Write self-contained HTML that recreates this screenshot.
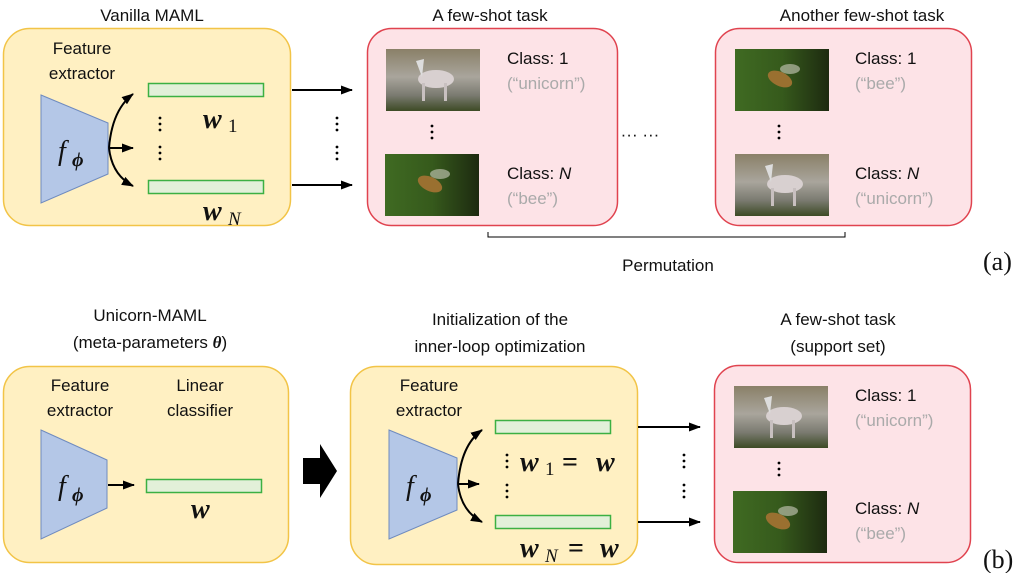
<!DOCTYPE html>
<html><head><meta charset="utf-8"><style>
html,body{margin:0;padding:0;background:#fff;}
svg{display:block;}
text{font-family:"Liberation Sans",sans-serif;font-size:17px;fill:#111;}
.g{fill:#aaa;}
.m{font-family:"Liberation Serif",serif;font-weight:bold;font-style:italic;font-size:28px;}
.ms{font-family:"Liberation Serif",serif;font-size:17px;font-style:italic;}
.lab{font-family:"Liberation Serif",serif;font-size:26px;}
</style></head><body>
<svg width="1021" height="573" viewBox="0 0 1021 573" xmlns="http://www.w3.org/2000/svg">
<defs>
<marker id="ah" markerWidth="12" markerHeight="9" refX="11" refY="4.5" orient="auto" markerUnits="userSpaceOnUse"><path d="M0,0 L12,4.5 L0,9 z" fill="#000"/></marker>
<linearGradient id="uni" x1="0" y1="0" x2="0" y2="1"><stop offset="0" stop-color="#8a8068"/><stop offset="0.45" stop-color="#a9a59c"/><stop offset="0.75" stop-color="#7a7a70"/><stop offset="1" stop-color="#3d4a25"/></linearGradient>
<linearGradient id="bee" x1="0" y1="0" x2="1" y2="0"><stop offset="0" stop-color="#3f6a22"/><stop offset="0.5" stop-color="#365a1c"/><stop offset="1" stop-color="#1d2a10"/></linearGradient>
<g id="U"><rect width="94" height="62" fill="url(#uni)"/><ellipse cx="50" cy="30" rx="18" ry="9" fill="#d8d0d0"/><rect x="36" y="34" width="3" height="18" fill="#c8c0c0"/><rect x="58" y="34" width="3" height="18" fill="#c8c0c0"/><path d="M36,28 L30,12 L38,10 Z" fill="#ddd"/></g>
<g id="B"><rect width="94" height="62" fill="url(#bee)"/><ellipse cx="45" cy="30" rx="13" ry="7" fill="#9a7030" transform="rotate(25 45 30)"/><ellipse cx="55" cy="20" rx="10" ry="5" fill="#b8bca8" opacity="0.7"/></g>
</defs>

<!-- (a) -->
<text x="152" y="21" text-anchor="middle">Vanilla MAML</text>
<rect x="3.5" y="28.5" width="287" height="197" rx="26" fill="#fff0c2" stroke="#f2c447" stroke-width="1.5"/>
<text x="82" y="54" text-anchor="middle">Feature</text>
<text x="82" y="79" text-anchor="middle">extractor</text>
<path d="M41,95 L108,123 L108,174 L41,203 Z" fill="#b4c7e7" stroke="#6f8bbf"/>
<text x="58" y="160" class="ms" style="font-size:28px;font-weight:normal">f</text><text x="72" y="166" class="m" style="font-size:20px">ϕ</text>
<path d="M109,148 Q112,110 133,94" fill="none" stroke="#000" stroke-width="2" marker-end="url(#ah)"/>
<path d="M109,148 L133,148" fill="none" stroke="#000" stroke-width="2" marker-end="url(#ah)"/>
<path d="M109,148 Q112,175 133,186" fill="none" stroke="#000" stroke-width="2" marker-end="url(#ah)"/>
<rect x="148.5" y="83.5" width="115" height="13" fill="#e2f0d9" stroke="#3cb043" stroke-width="1.5"/>
<rect x="148.5" y="180.5" width="115" height="13" fill="#e2f0d9" stroke="#3cb043" stroke-width="1.5"/>
<text x="203" y="128" class="m">w</text><text x="228" y="132" class="ms" style="font-size:19px;font-style:normal">1</text>
<text x="203" y="220" class="m">w</text><text x="228" y="225" class="ms" style="font-size:19px">N</text>
<g fill="#000"><circle cx="160" cy="118" r="1.4"/><circle cx="160" cy="124" r="1.4"/><circle cx="160" cy="130" r="1.4"/><circle cx="160" cy="147" r="1.4"/><circle cx="160" cy="153" r="1.4"/><circle cx="160" cy="159" r="1.4"/>
<circle cx="337" cy="118" r="1.4"/><circle cx="337" cy="124" r="1.4"/><circle cx="337" cy="130" r="1.4"/><circle cx="337" cy="147" r="1.4"/><circle cx="337" cy="153" r="1.4"/><circle cx="337" cy="159" r="1.4"/></g>
<path d="M292,90 L352,90" stroke="#000" stroke-width="2" marker-end="url(#ah)"/>
<path d="M292,185 L352,185" stroke="#000" stroke-width="2" marker-end="url(#ah)"/>

<text x="490" y="21" text-anchor="middle">A few-shot task</text>
<rect x="367.5" y="28.5" width="250" height="197" rx="24" fill="#fde3e7" stroke="#e0434f" stroke-width="1.5"/>
<use href="#U" x="386" y="49"/><use href="#B" x="385" y="154"/>
<g fill="#000"><circle cx="432" cy="126" r="1.4"/><circle cx="432" cy="132" r="1.4"/><circle cx="432" cy="138" r="1.4"/></g>
<text x="507" y="64">Class: 1</text><text x="507" y="89" class="g">(“unicorn”)</text>
<text x="507" y="179">Class: <tspan font-style="italic">N</tspan></text><text x="507" y="204" class="g">(“bee”)</text>

<text x="640" y="140" text-anchor="middle">··· ···</text>

<text x="862" y="21" text-anchor="middle">Another few-shot task</text>
<rect x="715.5" y="28.5" width="256" height="197" rx="24" fill="#fde3e7" stroke="#e0434f" stroke-width="1.5"/>
<use href="#B" x="735" y="49"/><use href="#U" x="735" y="154"/>
<g fill="#000"><circle cx="779" cy="126" r="1.4"/><circle cx="779" cy="132" r="1.4"/><circle cx="779" cy="138" r="1.4"/></g>
<text x="855" y="64">Class: 1</text><text x="855" y="89" class="g">(“bee”)</text>
<text x="855" y="179">Class: <tspan font-style="italic">N</tspan></text><text x="855" y="204" class="g">(“unicorn”)</text>

<path d="M488,232 L488,237 L845,237 L845,232" fill="none" stroke="#000" stroke-width="1"/>
<text x="668" y="271" text-anchor="middle">Permutation</text>
<text x="983" y="270" class="lab">(a)</text>

<!-- (b) -->
<text x="150" y="321" text-anchor="middle">Unicorn-MAML</text>
<text x="150" y="348" text-anchor="middle">(meta-parameters <tspan font-family="Liberation Serif" font-weight="bold" font-style="italic">θ</tspan>)</text>
<rect x="3.5" y="366.5" width="285" height="196" rx="26" fill="#fff0c2" stroke="#f2c447" stroke-width="1.5"/>
<text x="80" y="391" text-anchor="middle">Feature</text><text x="80" y="416" text-anchor="middle">extractor</text>
<text x="200" y="391" text-anchor="middle">Linear</text><text x="200" y="416" text-anchor="middle">classifier</text>
<path d="M41,430 L107,460 L107,508 L41,539 Z" fill="#b4c7e7" stroke="#6f8bbf"/>
<text x="58" y="495" class="ms" style="font-size:28px">f</text><text x="72" y="501" class="m" style="font-size:20px">ϕ</text>
<path d="M108,485 L134,485" stroke="#000" stroke-width="2" marker-end="url(#ah)"/>
<rect x="146.5" y="479.5" width="115" height="13" fill="#e2f0d9" stroke="#3cb043" stroke-width="1.5"/>
<text x="191" y="518" class="m">w</text>

<path d="M303,458 L320,458 L320,444 L337,471 L320,498 L320,484 L303,484 Z" fill="#000"/>

<text x="500" y="325" text-anchor="middle">Initialization of the</text>
<text x="500" y="352" text-anchor="middle">inner-loop optimization</text>
<rect x="350.5" y="366.5" width="287" height="198" rx="26" fill="#fff0c2" stroke="#f2c447" stroke-width="1.5"/>
<text x="429" y="391" text-anchor="middle">Feature</text><text x="429" y="416" text-anchor="middle">extractor</text>
<path d="M389,430 L457,458 L457,510 L389,539 Z" fill="#b4c7e7" stroke="#6f8bbf"/>
<text x="406" y="495" class="ms" style="font-size:28px">f</text><text x="420" y="501" class="m" style="font-size:20px">ϕ</text>
<path d="M458,484 Q461,445 482,430" fill="none" stroke="#000" stroke-width="2" marker-end="url(#ah)"/>
<path d="M458,484 L479,484" fill="none" stroke="#000" stroke-width="2" marker-end="url(#ah)"/>
<path d="M458,484 Q461,511 482,522" fill="none" stroke="#000" stroke-width="2" marker-end="url(#ah)"/>
<rect x="495.5" y="420.5" width="115" height="13" fill="#e2f0d9" stroke="#3cb043" stroke-width="1.5"/>
<rect x="495.5" y="515.5" width="115" height="13" fill="#e2f0d9" stroke="#3cb043" stroke-width="1.5"/>
<g fill="#000"><circle cx="507" cy="455" r="1.4"/><circle cx="507" cy="461" r="1.4"/><circle cx="507" cy="467" r="1.4"/><circle cx="507" cy="485" r="1.4"/><circle cx="507" cy="491" r="1.4"/><circle cx="507" cy="497" r="1.4"/>
<circle cx="684" cy="455" r="1.4"/><circle cx="684" cy="461" r="1.4"/><circle cx="684" cy="467" r="1.4"/><circle cx="684" cy="485" r="1.4"/><circle cx="684" cy="491" r="1.4"/><circle cx="684" cy="497" r="1.4"/></g>
<text x="520" y="471" class="m">w</text><text x="545" y="475" class="ms" style="font-size:19px;font-style:normal">1</text><text x="562" y="471" class="m" style="font-style:normal">=</text><text x="596" y="471" class="m">w</text>
<text x="520" y="557" class="m">w</text><text x="545" y="562" class="ms" style="font-size:19px">N</text><text x="568" y="557" class="m" style="font-style:normal">=</text><text x="600" y="557" class="m">w</text>
<path d="M638,427 L700,427" stroke="#000" stroke-width="2" marker-end="url(#ah)"/>
<path d="M638,522 L700,522" stroke="#000" stroke-width="2" marker-end="url(#ah)"/>

<text x="838" y="325" text-anchor="middle">A few-shot task</text>
<text x="838" y="352" text-anchor="middle">(support set)</text>
<rect x="714.5" y="365.5" width="256" height="197" rx="24" fill="#fde3e7" stroke="#e0434f" stroke-width="1.5"/>
<use href="#U" x="734" y="386"/><use href="#B" x="733" y="491"/>
<g fill="#000"><circle cx="779" cy="463" r="1.4"/><circle cx="779" cy="469" r="1.4"/><circle cx="779" cy="475" r="1.4"/></g>
<text x="855" y="401">Class: 1</text><text x="855" y="426" class="g">(“unicorn”)</text>
<text x="855" y="514">Class: <tspan font-style="italic">N</tspan></text><text x="855" y="539" class="g">(“bee”)</text>
<text x="983" y="568" class="lab">(b)</text>
</svg>
</body></html>
